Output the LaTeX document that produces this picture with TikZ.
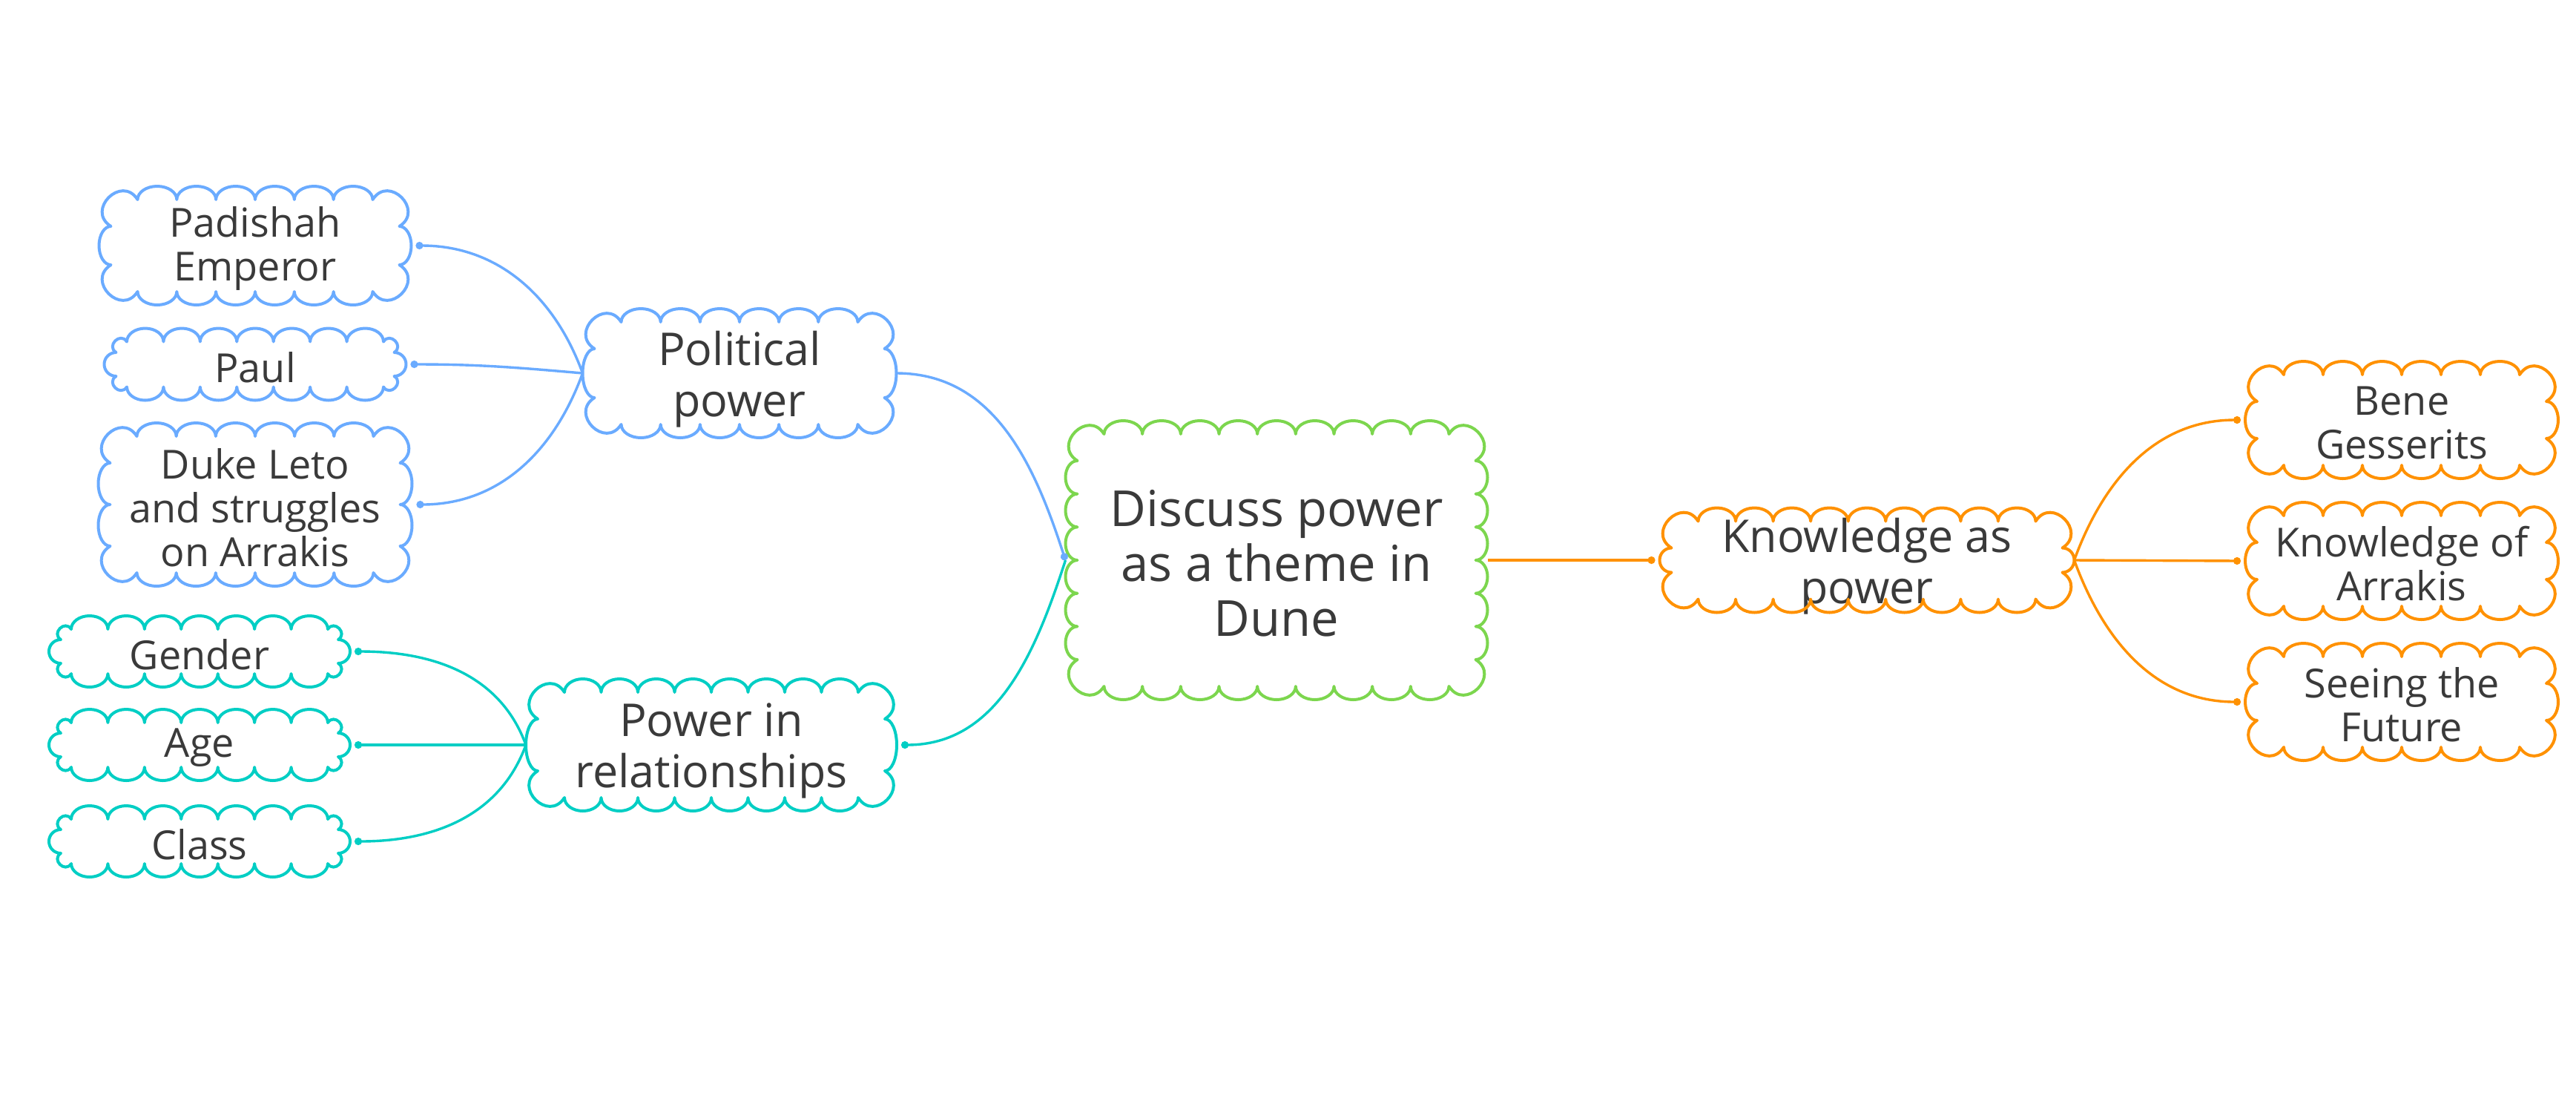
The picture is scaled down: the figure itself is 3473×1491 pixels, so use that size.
\documentclass[tikz,border=0pt]{standalone}
\usepackage{fontspec}
\setmainfont{Open Sans}
\usetikzlibrary{arrows.meta}
\definecolor{cblue}{HTML}{6AABFF}
\definecolor{cgreen}{HTML}{7CD64E}
\definecolor{cteal}{HTML}{00CEC4}
\definecolor{corange}{HTML}{FF9100}
\definecolor{txt}{HTML}{3A3A3A}

% scalloped outline around the rectangle of a named node
\newcommand\cloudline[2]{%
  \path (#1.south west); \pgfgetlastxy{\cxa}{\cya}%
  \path (#1.north east); \pgfgetlastxy{\cxb}{\cyb}%
  \pgfmathsetmacro\xa{\cxa}\pgfmathsetmacro\ya{\cya}%
  \pgfmathsetmacro\xb{\cxb}\pgfmathsetmacro\yb{\cyb}%
  \pgfmathsetmacro\cw{\xb-\xa}\pgfmathsetmacro\chh{\yb-\ya}%
  \pgfmathsetmacro\cc{min(9,(\chh-8)/2)}%
  \pgfmathtruncatemacro\nt{max(1,round((\cw-2*\cc)/12.5))}%
  \pgfmathsetmacro\st{(\cw-2*\cc)/\nt/2}%
  \pgfmathtruncatemacro\nr{max(1,round((\chh-2*\cc)/12))}%
  \pgfmathsetmacro\sr{(\chh-2*\cc)/\nr/2}%
  \pgfmathsetmacro\ca{0.6*\cc}\pgfmathsetmacro\cb{0.95*\cc}%
  \pgfmathsetmacro\xac{\xa+\cc}\pgfmathsetmacro\xbc{\xb-\cc}%
  \pgfmathsetmacro\yac{\ya+\cc}\pgfmathsetmacro\ybc{\yb-\cc}%
  \draw[cloudstroke,#2] (\xac pt,\yb pt)
    \foreach \k in {1,...,\nt}{ arc[start angle=180,end angle=0,x radius=\st pt,y radius=4.5pt] }
    .. controls ({(\xbc+\ca)*1pt},{(\yb+\cb)*1pt}) and ({(\xb+\cb)*1pt},{(\ybc+\ca)*1pt}) .. (\xb pt,\ybc pt)
    \foreach \k in {1,...,\nr}{ arc[start angle=90,end angle=-90,x radius=4pt,y radius=\sr pt] }
    .. controls ({(\xb+\cb)*1pt},{(\yac-\ca)*1pt}) and ({(\xbc+\ca)*1pt},{(\ya-\cb)*1pt}) .. (\xbc pt,\ya pt)
    \foreach \k in {1,...,\nt}{ arc[start angle=0,end angle=-180,x radius=\st pt,y radius=4.5pt] }
    .. controls ({(\xac-\ca)*1pt},{(\ya-\cb)*1pt}) and ({(\xa-\cb)*1pt},{(\yac-\ca)*1pt}) .. (\xa pt,\yac pt)
    \foreach \k in {1,...,\nr}{ arc[start angle=270,end angle=90,x radius=4pt,y radius=\sr pt] }
    .. controls ({(\xa-\cb)*1pt},{(\ybc+\ca)*1pt}) and ({(\xac-\ca)*1pt},{(\yb+\cb)*1pt}) .. (\xac pt,\yb pt) -- cycle;%
}

\begin{document}
\begin{tikzpicture}[x=0.25pt,y=-0.25pt,
  shapebox/.style={inner sep=0pt,outer sep=0pt,draw=none},
  ctext/.style={text=txt,align=center,yshift=-1pt,font=\fontsize{16.75pt}{18.5pt}\selectfont},
  mtext/.style={text=txt,align=center,yshift=-2pt,font=\fontsize{15.25pt}{17.25pt}\selectfont},
  ltext/.style={text=txt,align=center,yshift=-1pt,font=\fontsize{13.5pt}{14.75pt}\selectfont},
  cloudstroke/.style={line width=1pt,line join=round},
  conn/.style={line width=0.85pt},
  dotend/.style={-{Circle[length=2.5pt]}},
  dotstart/.style={{Circle[length=2.5pt]}-},
]
\useasboundingbox (0,0) rectangle (3473,1491);

% central
\node[shapebox,minimum width=134.25pt,minimum height=85pt] (cen) at (1721,755) {};
\node[ctext] (cent) at (cen) {Discuss power\\as a theme in\\Dune};
% main topics
\node[shapebox,minimum width=97.75pt,minimum height=34.5pt] (pol) at (997,503) {};
\node[mtext] (polt) at (pol) {Political\\power};
\node[shapebox,minimum width=117pt,minimum height=35.5pt] (rel) at (959,1004) {};
\node[mtext] (relt) at (rel) {Power in\\relationships};
\node[shapebox,minimum width=131.75pt,minimum height=26.25pt] (know) at (2517,755) {};
\node[mtext] (knowt) at (know) {Knowledge as\\power};
% leaves blue
\node[shapebox,minimum width=97.25pt,minimum height=31pt] (pad) at (344,331) {};
\node[ltext] (padt) at (pad) {Padishah\\Emperor};
\node[shapebox,minimum width=93.75pt,minimum height=15.25pt] (paul) at (344,491) {};
\node[ltext] (pault) at (paul) {Paul};
\node[shapebox,minimum width=97.75pt,minimum height=46pt] (duke) at (344,680) {};
\node[ltext] (duket) at (duke) {Duke Leto\\and struggles\\on Arrakis};
% leaves teal
\node[shapebox,minimum width=93.5pt,minimum height=15pt] (gen) at (269,878) {};
\node[ltext] (gent) at (gen) {Gender};
\node[shapebox,minimum width=93.5pt,minimum height=15pt] (age) at (269,1004) {};
\node[ltext] (aget) at (age) {Age};
\node[shapebox,minimum width=93.5pt,minimum height=15pt] (cls) at (269,1134) {};
\node[ltext] (clst) at (cls) {Class};
% leaves orange
\node[shapebox,minimum width=97.5pt,minimum height=30.5pt] (bene) at (3238,566) {};
\node[ltext] (benet) at (bene) {Bene\\Gesserits};
\node[shapebox,minimum width=97.5pt,minimum height=30.5pt] (arr) at (3238,756) {};
\node[ltext] (arrt) at (arr) {Knowledge of\\Arrakis};
\node[shapebox,minimum width=97.5pt,minimum height=30.5pt] (fut) at (3238,946) {};
\node[ltext] (futt) at (fut) {Seeing the\\Future};

% clouds
\cloudline{cen}{cgreen}
\cloudline{pol}{cblue}
\cloudline{rel}{cteal}
\cloudline{know}{corange}
\cloudline{pad}{cblue}
\cloudline{paul}{cblue}
\cloudline{duke}{cblue}
\cloudline{gen}{cteal}
\cloudline{age}{cteal}
\cloudline{cls}{cteal}
\cloudline{bene}{corange}
\cloudline{arr}{corange}
\cloudline{fut}{corange}

% connectors
\draw[conn,cblue,dotstart] ([xshift=-4pt]cen.west) to[out=108,in=0] ([xshift=4pt]pol.east);
\draw[conn,cteal,dotend] ([xshift=-4pt]cen.west) to[out=-108,in=0] ([xshift=5.5pt]rel.east);
\draw[conn,corange,dotend] ([xshift=4pt]cen.east) -- ([xshift=-5.5pt]know.west);

\draw[conn,cblue,dotend] ([xshift=-4pt]pol.west) to[out=110,in=0] ([xshift=5.5pt]pad.east);
\draw[conn,cblue,dotend] ([xshift=-4pt]pol.west) to[out=175,in=0] ([xshift=5.5pt]paul.east);
\draw[conn,cblue,dotend] ([xshift=-4pt]pol.west) to[out=-110,in=0] ([xshift=5.5pt]duke.east);

\draw[conn,cteal,dotend] ([xshift=-4pt]rel.west) to[out=110,in=0] ([xshift=5.5pt]gen.east);
\draw[conn,cteal,dotend] ([xshift=-4pt]rel.west) -- ([xshift=5.5pt]age.east);
\draw[conn,cteal,dotend] ([xshift=-4pt]rel.west) to[out=-110,in=0] ([xshift=5.5pt]cls.east);

\draw[conn,corange,dotend] ([xshift=4pt]know.east) to[out=70,in=180] ([xshift=-5.5pt]bene.west);
\draw[conn,corange,dotend] ([xshift=4pt]know.east) -- ([xshift=-5.5pt]arr.west);
\draw[conn,corange,dotend] ([xshift=4pt]know.east) to[out=-70,in=180] ([xshift=-5.5pt]fut.west);
\end{tikzpicture}
\end{document}
